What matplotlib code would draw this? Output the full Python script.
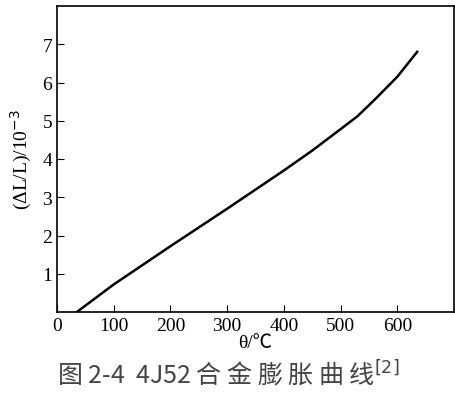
import matplotlib.pyplot as plt

temp = [35, 100, 200, 300, 400, 450, 500, 530, 560, 600, 635]
dl = [0.0, 0.72, 1.72, 2.7, 3.7, 4.22, 4.78, 5.12, 5.55, 6.15, 6.8]
xticks = [0, 100, 200, 300, 400, 500, 600]
yticks = [1, 2, 3, 4, 5, 6, 7]

fig = plt.figure(figsize=(4.56, 4.02), dpi=100)
ax = fig.add_axes([57 / 456, 1 - 313 / 402, 397 / 456, 306 / 402])
ax.plot(temp, dl, color='black', linewidth=1.8)
ax.set_xlim(0, 700)
ax.set_ylim(0, 8)
ax.set_xticks(xticks)
ax.set_yticks(yticks)
ax.tick_params(direction='in', length=5, labelsize=14)
for lbl in ax.get_xticklabels() + ax.get_yticklabels():
    lbl.set_family('Liberation Serif')
ax.set_xlabel('θ/℃', fontsize=14, family=['Liberation Serif', 'Noto Sans CJK SC'], labelpad=0)
ax.set_ylabel('(ΔL/L)/10$^{-3}$', fontsize=14, family='Liberation Serif', labelpad=6)
for s in ax.spines.values():
    s.set_linewidth(1.2)

fig.text(0.5, 0.045, '图 2-4  4J52 合 金 膨 胀 曲 线$^{[2]}$', ha='center', fontsize=18,
         color='#444444', family=['Noto Sans CJK SC', 'DejaVu Sans'])
fig.savefig('out.png', dpi=100)
